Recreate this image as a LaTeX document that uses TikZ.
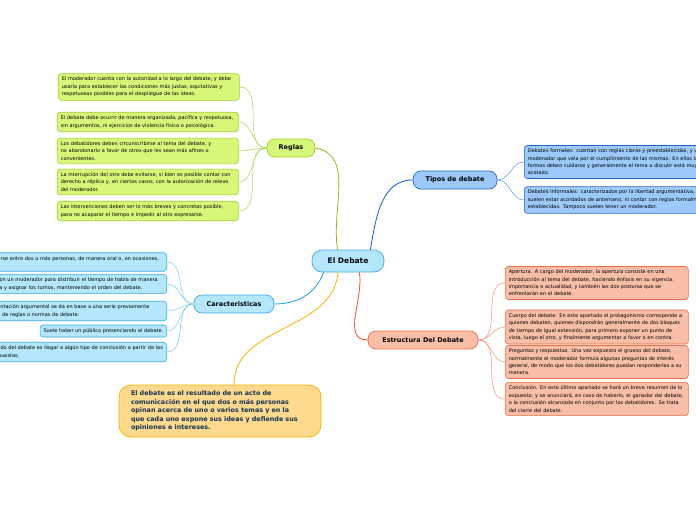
\documentclass[tikz,border=0pt]{standalone}
\usepackage{fontspec}
\setmainfont{DejaVu Sans}
\hyphenpenalty=10000
\exhyphenpenalty=10000
\begin{document}
\begin{tikzpicture}[x=1pt,y=-1pt,
  item/.style={draw, rounded corners=3pt, line width=0.6pt, text width=#1, align=left, font=\fontsize{5}{7.4}\selectfont, inner sep=3.5pt},
  item/.default=172pt,
  topic/.style={draw, rounded corners=8pt, line width=0.7pt, font=\fontsize{6.5}{8}\selectfont\bfseries, minimum height=18pt, inner xsep=8pt},
  grn/.style={fill={rgb,255:red,214;green,247;blue,122}, draw={rgb,255:red,160;green,205;blue,40}},
  blu/.style={fill={rgb,255:red,156;green,200;blue,250}, draw={rgb,255:red,40;green,100;blue,200}},
  cya/.style={fill={rgb,255:red,180;green,230;blue,252}, draw={rgb,255:red,60;green,170;blue,225}},
  sal/.style={fill={rgb,255:red,248;green,190;blue,168}, draw={rgb,255:red,236;green,110;blue,70}},
  org/.style={fill={rgb,255:red,255;green,217;blue,142}, draw={rgb,255:red,245;green,180;blue,0}},
  con/.style={line width=0.8pt},
]
\clip (0,0) rectangle (696,520);
\fill[white] (0,0) rectangle (696,520);

\node[topic, cya, minimum width=72pt, minimum height=22pt, rounded corners=10pt, font=\fontsize{7.5}{9}\selectfont\bfseries] (hub) at (348,261) {El Debate};

\node[topic, grn, minimum width=48pt] (reg) at (291,148) {Reglas};
\node[topic, blu, minimum width=84pt] (tip) at (455,180) {Tipos de debate};
\node[topic, cya, minimum width=80pt] (car) at (234,304) {Caracteristicas};
\node[topic, sal, minimum width=110pt] (est) at (423,340) {Estructura Del Debate};
\node[draw, rounded corners=12pt, line width=0.8pt, org, text width=178pt, align=left, minimum height=52pt, inner xsep=12pt, font=\fontsize{6.4}{8.4}\selectfont\bfseries, text={rgb,255:red,20;green,50;blue,80}] (big) at (220,411) {El debate es el resultado de un acto de comunicación en el que dos o más personas opinan acerca de uno o varios temas y en la que cada uno expone sus ideas y defiende sus opiniones e intereses.};

% connectors from hub
\draw[con, draw={rgb,255:red,140;green,190;blue,30}] ([xshift=26pt]hub.north west) to[out=100,in=-10] (reg.east);
\draw[con, draw={rgb,255:red,20;green,90;blue,200}] ([xshift=-14pt]hub.north east) to[out=80,in=180] (tip.west);
\draw[con, draw={rgb,255:red,30;green,160;blue,225}] ([xshift=12pt]hub.south west) to[out=-110,in=0] (car.east);
\draw[con, draw={rgb,255:red,232;green,80;blue,50}] ([xshift=-25pt]hub.south east) to[out=-80,in=180] (est.west);
\draw[con, draw={rgb,255:red,245;green,180;blue,0}] ([xshift=-10pt]hub.south) to[out=-95,in=90] ([xshift=14pt]big.north);

% Reglas items
\begin{scope}[every node/.style={item=174pt, grn, anchor=west}]
\node (r1) at (58,87) {El moderador cuenta con la autoridad a lo largo del debate, y debe usarla para establecer las condiciones más justas, equitativas y respetuosas posibles para el despliegue de las ideas.};
\node (r2) at (57,122) {El debate debe ocurrir de manera organizada, pacífica y respetuosa, sin argumentos, ni ejercicios de violencia física o psicológica.};
\node (r3) at (57,151) {Los debatidores deben circunscribirse al tema del debate, y no abandonarlo a favor de otros que les sean más afines o convenientes.};
\node (r4) at (57,182) {La interrupción del otro debe evitarse, si bien es posible contar con derecho a réplica y, en ciertos casos, con la autorización de relevo del moderador.};
\node (r5) at (57,211) {Las intervenciones deben ser lo más breves y concretas posible, para no acaparar el tiempo e impedir al otro expresarse.};
\end{scope}
\foreach \i in {1,...,5} \draw[con, line width=0.5pt, draw={rgb,255:red,170;green,210;blue,90}] (reg.west) to[out=180,in=0] (r\i.east);

% Tipos items
\begin{scope}[every node/.style={item=184pt, blu, anchor=west}]
\node (t1) at (524,162) {Debates formales: cuentan con reglas claras y preestablecidas, y un moderador que vela por el cumplimiento de las mismas. En ellos las formas deben cuidarse y generalmente el tema a discutir está muy bien acotado.};
\node (t2) at (524,200) {Debates informales: caracterizados por la libertad argumentativa, no suelen estar acordados de antemano, ni contar con reglas formalmente establecidas. Tampoco suelen tener un moderador.};
\end{scope}
\foreach \i in {1,2} \draw[con, line width=0.5pt, draw={rgb,255:red,90;green,150;blue,230}] (tip.east) to[out=0,in=180] (t\i.west);

% Caracteristicas items
\begin{scope}[every node/.style={item=186pt, cya, anchor=east}]
\node (c1) at (167,262) {Puede darse entre dos o más personas, de manera oral o, en ocasiones, escrita};
\node (c2) at (167,284) {Cuenta con un moderador para distribuir el tiempo de habla de manera equitativa y asignar los turnos, manteniendo el orden del debate.};
\node (c3) at (167,311) {La confrontación argumental se da en base a una serie previamente acordada de reglas o normas de debate.};
\node[item=none, text width=, cya, anchor=east] (c4) at (167,331) {Suele haber un público presenciando el debate.};
\node (c5) at (167,352) {El cometido del debate es llegar a algún tipo de conclusión a partir de las ideas expuestas.};
\end{scope}
\foreach \i in {1,...,5} \draw[con, line width=0.5pt, draw={rgb,255:red,120;green,200;blue,240}] (car.west) to[out=180,in=0] (c\i.east);

% Estructura items
\begin{scope}[every node/.style={item=176pt, sal, anchor=west}]
\node (e1) at (505,283) {Apertura. A cargo del moderador, la apertura consiste en una introducción al tema del debate, haciendo énfasis en su vigencia, importancia o actualidad, y también las dos posturas que se enfrentarán en el debate.};
\node (e2) at (505,327) {Cuerpo del debate. En este apartado el protagonismo corresponde a quienes debaten, quienes dispondrán generalmente de dos bloques de tiempo de igual extensión, para primero exponer un punto de vista, luego el otro, y finalmente argumentar a favor o en contra.};
\node (e3) at (505,362) {Preguntas y respuestas. Una vez expuesto el grueso del debate, normalmente el moderador formula algunas preguntas de interés general, de modo que los dos debatidores puedan responderlas a su manera.};
\node (e4) at (505,399) {Conclusión. En este último apartado se hará un breve resumen de lo expuesto, y se anunciará, en caso de haberlo, el ganador del debate, o la conclusión alcanzada en conjunto por los debatidores. Se trata del cierre del debate.};
\end{scope}
\foreach \i in {1,...,4} \draw[con, line width=0.5pt, draw={rgb,255:red,240;green,150;blue,120}] (est.east) to[out=0,in=180] (e\i.west);
\end{tikzpicture}
\end{document}
